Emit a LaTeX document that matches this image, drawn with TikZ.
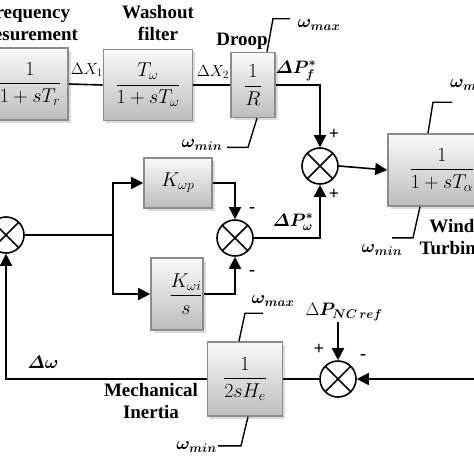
\documentclass[tikz,border=0pt]{standalone}
\usepackage{fix-cm}
\usepackage{amsmath}
\usepackage{bm}
\usepackage{fontspec}
\setmainfont{Liberation Serif}
\usetikzlibrary{arrows.meta,shadows,calc}

\tikzset{
	blk/.style={draw=gray!90, line width=1.6pt, top color=gray!4, bottom color=gray!52,
		drop shadow={shadow xshift=2.5pt, shadow yshift=-2.5pt, fill=gray!55},
		inner sep=0pt, font=\fontsize{20}{24}\selectfont},
	sumj/.style={circle, draw, line width=1.6pt, minimum size=36pt, inner sep=0pt,
		path picture={\draw[line width=1.6pt]
			(path picture bounding box.north west) -- (path picture bounding box.south east)
			(path picture bounding box.north east) -- (path picture bounding box.south west);}},
	wire/.style={line width=1.6pt},
	sig/.style={wire, -{Triangle[length=12pt,width=12pt]}},
	lim/.style={line width=1.4pt},
	lbl/.style={font=\fontsize{18}{21}\selectfont, inner sep=0pt},
	ttl/.style={font=\bfseries\fontsize{19}{22}\selectfont, align=center, inner sep=0pt},
	sgn/.style={font=\bfseries\fontsize{18}{18}\selectfont, inner sep=0pt},
}

\begin{document}
\begin{tikzpicture}[x=1pt,y=-1pt]
\useasboundingbox (0,0) rectangle (474,474);
% blocks
\node[blk, minimum width=76pt, minimum height=72pt] (tr) at (30,84) {$\dfrac{1}{1+sT_r}$};
\node[blk, minimum width=89pt, minimum height=71pt] (wash) at (148,85) {$\dfrac{T_\omega}{1+sT_\omega}$};
\node[blk, minimum width=44pt, minimum height=65pt] (droop) at (253,85) {$\dfrac{1}{R}$};
\node[blk, minimum width=108pt, minimum height=72pt] (wind) at (442,170) {$\dfrac{1}{1+sT_\alpha}$};
\node[blk, minimum width=68pt, minimum height=50pt] (kwp) at (178,183) {$K_{\omega p}$};
\node[blk, minimum width=52pt, minimum height=72pt] (kwi) at (177,294) {};
\node[font=\fontsize{20}{24}\selectfont, inner sep=0pt] (kwitxt) at (186,294) {$\dfrac{K_{\omega i}}{s}$};
\node[blk, minimum width=75pt, minimum height=74pt] (inert) at (245,379) {$\dfrac{1}{2sH_e}$};
% summing junctions
\node[sumj] (sum0) at (6,235) {};
\node[sumj] (sum1) at (320,166) {};
\node[sumj] (sum2) at (235,238) {};
\node[sumj] (sum3) at (338,379) {};
% titles
\node[ttl] (tfreq) at (27,23) {Frequency\\Mesurement};
\node[ttl] (twash) at (158,23) {Washout\\filter};
\node[ttl] (tdroop) at (242,41) {Droop};
\node[ttl] (twind) at (452,237) {Wind\\Turbine};
\node[ttl] (tinert) at (151,401) {Mechanical\\Inertia};
% connectors
\draw[wire] (tr.east) -- (wash.west);
\draw[wire] (wash.east) -- (droop.west);
\draw[sig] (droop.east) -| (sum1.north);
\draw[sig] (sum1.east) -- (wind.west);
\coordinate (br) at (113,235);
\draw[wire] (sum0.east) -- (br);
\draw[sig] (br) |- (kwp.west);
\draw[sig] (br) |- (kwi.west);
\draw[sig] (kwp.east) -| (sum2.north);
\draw[sig] (kwi.east) -| (sum2.south);
\draw[sig] (sum2.east) -| (sum1.south);
\draw[sig] (inert.west) -| (sum0.south);
\draw[wire] (sum3.west) -- (inert.east);
\coordinate (pin) at (480,379);
\draw[sig] (pin) -- (sum3.east);
\coordinate (nc) at (338,322);
\draw[sig] (nc) -- (sum3.north);
% limiters
\draw[lim] ($(droop.north)+(14,0)$) -- ++(6,-33) -- ++(17,0);
\draw[lim] ($(droop.south)+(4,0)$) -- ++(-9,29) -- ++(-21,0);
\draw[lim] ($(wind.north)+(-14,0)$) -- ++(5,-31) -- ++(19,0);
\draw[lim] ($(wind.south)+(-22,0)$) -- ++(-7,31) -- ++(-21,0);
\draw[lim] ($(inert.north)+(-6,0)$) -- ++(6,-28) -- ++(18,0);
\draw[lim] ($(inert.south)+(3,0)$) -- ++(-7,29) -- ++(-23,0);
% signal labels
\node[lbl, font=\fontsize{16}{19}\selectfont] (ldx1) at (87,70) {$\Delta X_1$};
\node[lbl, font=\fontsize{16}{19}\selectfont] (ldx2) at (213,72) {$\Delta X_2$};
\node[lbl] (ldpf) at (296,71) {$\bm{\varDelta P_f^*}$};
\node[lbl] (ldpw) at (293,222) {$\bm{\varDelta P_\omega^*}$};
\node[lbl] (ldw) at (43,362) {$\bm{\varDelta\omega}$};
\node[lbl] (lnc) at (344,312) {$\Delta\bm{P_{NC\,ref}}$};
\node[lbl] (lmax1) at (319,25) {$\bm{\omega_{max}}$};
\node[lbl] (lmin1) at (202,145) {$\bm{\omega_{min}}$};
\node[lbl, anchor=west] (lmax2) at (450,85) {$\bm{\omega_{max}}$};
\node[lbl] (lmin2) at (382,250) {$\bm{\omega_{min}}$};
\node[lbl] (lmax3) at (273,301) {$\bm{\omega_{max}}$};
\node[lbl, anchor=east] (lmin3) at (217,447) {$\bm{\omega_{min}}$};
% signs
\node[sgn] (s1a) at (334,134) {+};
\node[sgn] (s1b) at (334,194) {+};
\node[sgn] (s2a) at (252,210) {-};
\node[sgn] (s2b) at (252,273) {-};
\node[sgn] (s3a) at (319,349) {+};
\node[sgn] (s3b) at (363,357) {-};
\end{tikzpicture}
\end{document}
